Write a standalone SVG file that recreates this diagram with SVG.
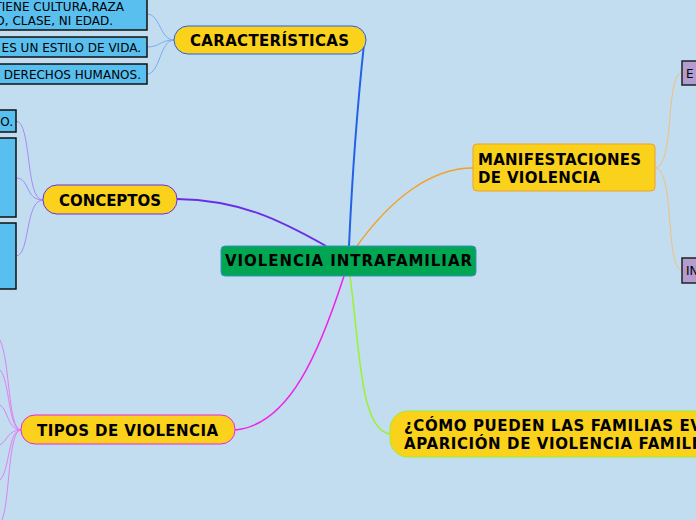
<svg xmlns="http://www.w3.org/2000/svg" width="696" height="520" viewBox="0 0 696 520">
<style>
.b{font-family:"DejaVu Sans",Verdana,sans-serif;font-weight:bold;fill:#000;font-size:15px}
.s{font-family:"DejaVu Sans",Verdana,sans-serif;font-size:12px;fill:#000}
.y{fill:#fad21b}
.lb{fill:#58bfee;stroke:#111;stroke-width:1.5}
.pu{fill:#b39ccf;stroke:#222;stroke-width:1.5}
#edges path{fill:none}
</style>
<rect width="696" height="520" fill="#c2ddf0"/>
<g id="edges">
<path d="M349,246 C352,180 358,100 364,44" stroke="#2460e8" stroke-width="2"/>
<path d="M326,246 C280,220 240,200 177,199" stroke="#6a2ee8" stroke-width="2"/>
<path d="M357,246 C390,200 430,168 473,168" stroke="#f3a02a" stroke-width="1.5"/>
<path d="M344,276 C320,350 290,425 235,430" stroke="#ee22e8" stroke-width="1.5"/>
<path d="M350,276 C360,350 360,430 390,434" stroke="#9af22a" stroke-width="1.5"/>
<g stroke="#7fa8f0" stroke-width="1">
<path d="M174,40 C160,40 160,14 147,14"/><path d="M174,40 C160,40 160,47 147,47"/><path d="M174,40 C160,40 160,74 147,74"/>
</g>
<g stroke="#a88af0" stroke-width="1">
<path d="M43,200 C25,200 32,122 16,121"/><path d="M43,200 C25,200 30,178 16,178"/><path d="M43,200 C25,200 30,256 16,256"/>
</g>
<g stroke="#e07ff0" stroke-width="1">
<path d="M21,430 C8,430 10,360 0,340"/><path d="M21,430 C8,430 10,380 0,370"/><path d="M21,430 C8,430 8,410 0,405"/><path d="M21,430 C8,430 8,440 0,445"/><path d="M21,430 C8,430 10,470 0,480"/><path d="M21,430 C8,430 10,500 2,520"/>
</g>
<g stroke="#f2c07a" stroke-width="1">
<path d="M655,168 C675,168 665,73 682,73"/><path d="M655,168 C675,168 665,270 682,270"/>
</g>
</g>
<g id="center"><rect x="221" y="246" width="255" height="30" rx="4" fill="#00a651" stroke="#3a8fc8"/><text class="b" x="225" y="266" textLength="247" lengthAdjust="spacing">VIOLENCIA INTRAFAMILIAR</text></g>
<g id="caracteristicas"><rect class="y" x="174" y="26" width="192" height="28" rx="14" stroke="#2460e8"/><text class="b" x="190" y="46" textLength="159" lengthAdjust="spacing">CARACTERÍSTICAS</text></g>
<g id="c1"><rect class="lb" x="-3" y="-2" width="150" height="32"/><text class="s" x="124" y="11" text-anchor="end">TIENE CULTURA,RAZA</text><text class="s" x="113" y="25" text-anchor="end">O, CLASE, NI EDAD.</text></g>
<g id="c2"><rect class="lb" x="-3" y="37" width="150" height="20"/><text class="s" x="141" y="52" text-anchor="end">ES UN ESTILO DE VIDA.</text></g>
<g id="c3"><rect class="lb" x="-3" y="64" width="150" height="20"/><text class="s" x="141" y="79" text-anchor="end">S DERECHOS HUMANOS.</text></g>
<g id="conceptos"><rect class="y" x="43" y="185" width="134" height="29" rx="14" stroke="#6a2ee8"/><text class="b" x="59" y="206" textLength="102" lengthAdjust="spacing">CONCEPTOS</text></g>
<g id="k1"><rect class="lb" x="-3" y="110" width="19" height="22"/><text class="s" x="13" y="126" text-anchor="end">O.</text></g>
<g id="k2"><rect class="lb" x="-3" y="138" width="19" height="79"/></g>
<g id="k3"><rect class="lb" x="-3" y="223" width="19" height="66"/></g>
<g id="tipos"><rect class="y" x="21" y="415" width="214" height="29" rx="14" stroke="#ee22e8"/><text class="b" x="37" y="436" textLength="181" lengthAdjust="spacing">TIPOS DE VIOLENCIA</text></g>
<g id="manifestaciones"><rect class="y" x="473" y="144" width="182" height="47" rx="4" stroke="#f3a02a"/><text class="b" x="478" y="165" textLength="163" lengthAdjust="spacing">MANIFESTACIONES</text><text class="b" x="478" y="183" textLength="122" lengthAdjust="spacing">DE VIOLENCIA</text></g>
<g id="m1"><rect class="pu" x="682" y="61" width="20" height="24"/><text class="s" x="686" y="78">E</text></g>
<g id="m2"><rect class="pu" x="682" y="258" width="20" height="25"/><text class="s" x="686" y="275">IN</text></g>
<g id="como"><rect class="y" x="390" y="411" width="330" height="46" rx="18" stroke="#9af22a"/><text class="b" x="404" y="431" letter-spacing="0.6">¿CÓMO PUEDEN LAS FAMILIAS EVITAR LA</text><text class="b" x="404" y="449" letter-spacing="0.6">APARICIÓN DE VIOLENCIA FAMILIAR?</text></g>
</svg>
